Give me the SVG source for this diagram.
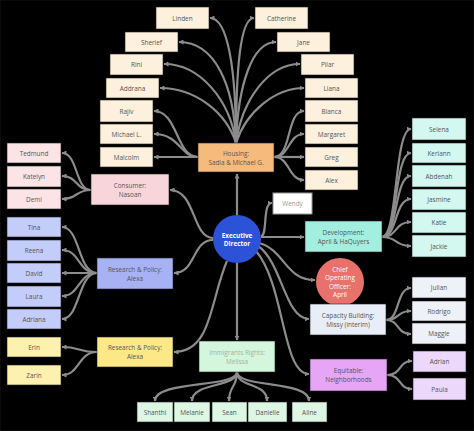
<svg xmlns="http://www.w3.org/2000/svg" width="474" height="431" viewBox="0 0 474 431">
<defs>
<marker id="ah" viewBox="0 0 10 10" refX="9" refY="5" markerWidth="5" markerHeight="5" markerUnits="userSpaceOnUse" orient="auto">
<path d="M0,0 L10,5 L0,10 z" fill="#8c8c8c"/>
</marker>
<style>
.e{fill:none;stroke:#8c8c8c;stroke-width:2.2;marker-end:url(#ah)}
text{font-family:"Open Sans","Noto Sans",sans-serif;font-size:6.4px;fill:#555;text-anchor:middle;dominant-baseline:central}
.hl rect{fill:#fdf0dc}
.hs rect{fill:#fde2f0}
.cl rect{fill:#fbe3e6}
.rb rect{fill:#c4ccf9}
.ry rect{fill:#fdf1b0}
.im rect{fill:#ddf7e4}
.eq rect{fill:#ecd8fb}
.cb rect{fill:#eef1f8}
.dv rect{fill:#d2f8ef}
rect{stroke:#222;stroke-width:0.6}
.w{fill:#fff}
</style>
</defs>
<rect x="0" y="0" width="474" height="431" fill="#000" stroke="none"/>

<g id="connectors">
<!-- ED edges -->
<path class="e" d="M237,215 L237,174"/>
<path class="e" d="M213,238 C192,238 196,190 170,190"/>
<path class="e" d="M213,240 C192,240 196,273 174,273"/>
<path class="e" d="M227,261 C210,300 212,352 174,352"/>
<path class="e" d="M237,263 L237,340"/>
<path class="e" d="M261,236 C268,236 262,203 272,203"/>
<path class="e" d="M261,237 L304,237"/>
<path class="e" d="M259,243 C285,250 285,280 315,280"/>
<path class="e" d="M258,246 C282,262 285,319 309,319"/>
<path class="e" d="M256,251 C285,285 282,374 309,374"/>
<!-- Housing -->
<path class="e" d="M236,143 C236,70 228,18 210,18"/>
<path class="e" d="M236,143 C234,85 215,42 179,42"/>
<path class="e" d="M236,143 C230,100 200,64 164,64"/>
<path class="e" d="M236,143 C226,112 195,88 160,88"/>
<path class="e" d="M236,143 C236,70 240,18 254,18"/>
<path class="e" d="M236,143 C238,85 252,42 276,42"/>
<path class="e" d="M236,143 C242,100 268,64 300,64"/>
<path class="e" d="M236,143 C246,112 275,88 304,88"/>
<path class="e" d="M198,157 C176,157 178,111 154,111"/>
<path class="e" d="M198,157 C180,157 180,134 154,134"/>
<path class="e" d="M198,157 L154,157"/>
<path class="e" d="M274,157 C292,157 286,111 304,111"/>
<path class="e" d="M274,157 C290,157 288,134 304,134"/>
<path class="e" d="M274,157 L304,157"/>
<path class="e" d="M274,157 C290,157 288,180 304,180"/>
<!-- Consumer -->
<path class="e" d="M91,190 C75,190 78,153 62,153"/>
<path class="e" d="M91,190 C75,190 78,176 62,176"/>
<path class="e" d="M91,190 C75,190 78,199 62,199"/>
<!-- Research blue -->
<path class="e" d="M97,273 C78,273 80,227 62,227"/>
<path class="e" d="M97,273 C78,273 80,250 62,250"/>
<path class="e" d="M97,273 L62,273"/>
<path class="e" d="M97,273 C78,273 80,296 62,296"/>
<path class="e" d="M97,273 C78,273 80,319 62,319"/>
<!-- Research yellow -->
<path class="e" d="M97,352 C78,352 80,347 62,347"/>
<path class="e" d="M97,352 C78,352 80,375 62,375"/>
<!-- Immigrants -->
<path class="e" d="M237,372 C237,388 155,380 155,401"/>
<path class="e" d="M237,372 C237,388 192,382 192,401"/>
<path class="e" d="M237,372 C237,388 229,385 229,401"/>
<path class="e" d="M237,372 C237,388 267,382 267,401"/>
<path class="e" d="M237,372 C237,388 309,380 309,401"/>
<!-- Development -->
<path class="e" d="M382,237 C398,237 394,129 411,129"/>
<path class="e" d="M382,237 C398,237 394,153 411,153"/>
<path class="e" d="M382,237 C398,237 394,176 411,176"/>
<path class="e" d="M382,237 C398,237 394,199 411,199"/>
<path class="e" d="M382,237 C398,237 394,222 411,222"/>
<path class="e" d="M382,237 C398,237 394,246 411,246"/>
<!-- Capacity -->
<path class="e" d="M386,320 C400,320 396,288 411,288"/>
<path class="e" d="M386,320 C400,320 396,311 411,311"/>
<path class="e" d="M386,320 C400,320 396,334 411,334"/>
<!-- Equitable -->
<path class="e" d="M387,375 C402,375 398,361 412,361"/>
<path class="e" d="M387,375 C402,375 398,389 412,389"/>
</g>

<!-- Central -->
<g id="ed"><circle cx="237" cy="239" r="24" fill="#2c52d8"/><text x="237" y="235" style="fill:#fff;font-weight:bold">Executive</text><text x="237" y="243.5" style="fill:#fff;font-weight:bold">Director</text></g>
<g id="coo"><circle cx="340" cy="282" r="24" fill="#e8716b"/><text x="340" y="269" style="fill:#fff">Chief</text><text x="340" y="277.5" style="fill:#fff">Operating</text><text x="340" y="286" style="fill:#fff">Officer:</text><text x="340" y="294.5" style="fill:#fff">April</text></g>

<!-- Departments -->
<g id="housing"><rect x="198" y="143" width="76" height="29" fill="#f6bb7c"/><text x="236" y="153">Housing:</text><text x="236" y="162">Sadia &amp; Michael G.</text></g>
<g id="consumer"><rect x="91" y="174" width="78" height="31" fill="#f8d5da"/><text x="130" y="185">Consumer:</text><text x="130" y="194">Nasoan</text></g>
<g id="research1"><rect x="97" y="258" width="76" height="31" fill="#a6b2f4"/><text x="135" y="269">Research &amp; Policy:</text><text x="135" y="278">Alexa</text></g>
<g id="research2"><rect x="97" y="337" width="76" height="30" fill="#fde888"/><text x="135" y="347.5">Research &amp; Policy:</text><text x="135" y="356.5">Alexa</text></g>
<g id="immigrants"><rect x="199" y="341" width="76" height="31" fill="#d4f6dc"/><text x="237" y="352" style="fill:#9fb3a6">Immigrants Rights:</text><text x="237" y="361" style="fill:#9fb3a6">Melissa</text></g>
<g id="equitable"><rect x="310" y="359" width="77" height="32" fill="#e6a6f5"/><text x="348.5" y="370.5">Equitable:</text><text x="348.5" y="379.5">Neighborhoods</text></g>
<g id="capacity"><rect x="310" y="304" width="76" height="31" fill="#e8eef8"/><text x="348" y="315">Capacity Building:</text><text x="348" y="324">Missy (interim)</text></g>
<g id="development"><rect x="305" y="221" width="77" height="31" fill="#a2efe0"/><text x="343.5" y="232">Development:</text><text x="343.5" y="241">April &amp; HaQuyers</text></g>
<g id="wendy"><rect x="273" y="193" width="39" height="21" class="w" style="stroke:#999;stroke-width:1"/><text x="292.5" y="203.5" style="fill:#999">Wendy</text></g>

<!-- Housing leaves -->
<g class="hl">
<g id="linden"><rect x="156" y="7" width="53" height="22"/><text x="182.5" y="18">Linden</text></g>
<g id="sherief"><rect x="125" y="32" width="53" height="20"/><text x="151.5" y="42">Sherief</text></g>
<g id="rini"><rect x="110" y="54" width="53" height="21"/><text x="136.5" y="64.5">Rini</text></g>
<g id="addrana"><rect x="106" y="78" width="53" height="20"/><text x="132.5" y="88">Addrana</text></g>
<g id="rajiv"><rect x="100" y="100" width="53" height="22"/><text x="126.5" y="111">Rajiv</text></g>
<g id="michaell"><rect x="100" y="124" width="53" height="20"/><text x="126.5" y="134">Michael L.</text></g>
<g id="malcolm"><rect x="100" y="147" width="53" height="20"/><text x="126.5" y="157">Malcolm</text></g>
<g id="catherine"><rect x="255" y="7" width="53" height="22"/><text x="281.5" y="18">Catherine</text></g>
<g id="jane"><rect x="277" y="32" width="53" height="20"/><text x="303.5" y="42">Jane</text></g>
<g id="pilar"><rect x="301" y="54" width="53" height="21"/><text x="327.5" y="64.5">Pilar</text></g>
<g id="liana"><rect x="305" y="78" width="53" height="20"/><text x="331.5" y="88">Liana</text></g>
<g id="bianca"><rect x="305" y="100" width="53" height="22"/><text x="331.5" y="111">Bianca</text></g>
<g id="margaret"><rect x="305" y="124" width="53" height="20"/><text x="331.5" y="134">Margaret</text></g>
<g id="greg"><rect x="305" y="147" width="53" height="20"/><text x="331.5" y="157">Greg</text></g>
<g id="alex"><rect x="305" y="170" width="53" height="20"/><text x="331.5" y="180">Alex</text></g>
</g>

<g class="cl">
<g id="tedmund"><rect x="7" y="143" width="54" height="20"/><text x="34" y="153">Tedmund</text></g>
<g id="katelyn"><rect x="7" y="166" width="54" height="21"/><text x="34" y="176.5">Katelyn</text></g>
<g id="demi"><rect x="7" y="189" width="54" height="20"/><text x="34" y="199">Demi</text></g>
</g>
<g class="rb">
<g id="tina"><rect x="7" y="217" width="54" height="20"/><text x="34" y="227">Tina</text></g>
<g id="reena"><rect x="7" y="240" width="54" height="21"/><text x="34" y="250.5">Reena</text></g>
<g id="david"><rect x="7" y="263" width="54" height="20"/><text x="34" y="273">David</text></g>
<g id="laura"><rect x="7" y="286" width="54" height="21"/><text x="34" y="296.5">Laura</text></g>
<g id="adriana"><rect x="7" y="309" width="54" height="20"/><text x="34" y="319">Adriana</text></g>
</g>
<g class="ry">
<g id="erin"><rect x="7" y="337" width="54" height="20"/><text x="34" y="347">Erin</text></g>
<g id="zarin"><rect x="7" y="365" width="54" height="20"/><text x="34" y="375">Zarin</text></g>
</g>
<g class="im">
<g id="shanthi"><rect x="137" y="402" width="36" height="20"/><text x="155" y="412">Shanthi</text></g>
<g id="melanie"><rect x="174" y="402" width="36" height="20"/><text x="192" y="412">Melanie</text></g>
<g id="sean"><rect x="212" y="402" width="35" height="20"/><text x="229.5" y="412">Sean</text></g>
<g id="danielle"><rect x="248" y="402" width="39" height="20"/><text x="267.5" y="412">Danielle</text></g>
<g id="aline"><rect x="292" y="402" width="35" height="20"/><text x="309.5" y="412">Aline</text></g>
</g>
<g class="dv">
<g id="selena"><rect x="412" y="118" width="54" height="22"/><text x="439" y="129">Selena</text></g>
<g id="keriann"><rect x="412" y="143" width="54" height="20"/><text x="439" y="153">Keriann</text></g>
<g id="abdenah"><rect x="412" y="165" width="54" height="22"/><text x="439" y="176">Abdenah</text></g>
<g id="jasmine"><rect x="412" y="189" width="54" height="21"/><text x="439" y="199.5">Jasmine</text></g>
<g id="katie"><rect x="412" y="212" width="54" height="21"/><text x="439" y="222.5">Katie</text></g>
<g id="jackie"><rect x="412" y="235" width="54" height="22"/><text x="439" y="246">Jackie</text></g>
</g>
<g class="cb">
<g id="julian"><rect x="412" y="277" width="54" height="21"/><text x="439" y="287.5">Julian</text></g>
<g id="rodrigo"><rect x="412" y="301" width="54" height="20"/><text x="439" y="311">Rodrigo</text></g>
<g id="maggie"><rect x="412" y="323" width="54" height="21"/><text x="439" y="333.5">Maggie</text></g>
</g>
<g class="eq">
<g id="adrian"><rect x="413" y="351" width="53" height="21"/><text x="439.5" y="361.5">Adrian</text></g>
<g id="paula"><rect x="413" y="378" width="53" height="22"/><text x="439.5" y="389">Paula</text></g>
</g>
</svg>
